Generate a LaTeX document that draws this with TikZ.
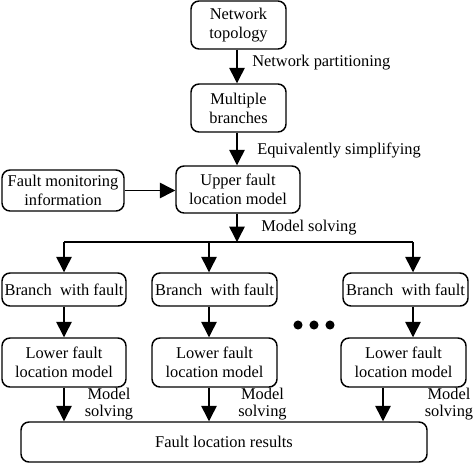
\documentclass[tikz,border=0pt]{standalone}
\usepackage{fontspec}
\setmainfont{Liberation Serif}
\usetikzlibrary{arrows.meta}
\begin{document}
\begin{tikzpicture}[x=0.75pt,y=-0.75pt,
  box/.style={draw,line width=1.1pt,rounded corners=6pt,align=center,inner sep=0pt,font=\fontsize{12.3}{14.25}\selectfont},
  arr/.style={draw,line width=1.1pt,-{Triangle[length=11.5pt,width=11.5pt]}},
  lbl/.style={font=\fontsize{12.3}{14.25}\selectfont,inner sep=0pt},
  lbl2/.style={font=\fontsize{12.3}{12.75}\selectfont,inner sep=0pt,align=center}]
\useasboundingbox (0,0) rectangle (474,464);
\node[box,minimum width=71.25pt,minimum height=36pt] (topo) at (238.5,25) {Network\\topology};
\node[box,minimum width=71.25pt,minimum height=36pt] (branches) at (238.5,108) {Multiple\\branches};
\node[box,minimum width=93pt,minimum height=35.25pt] (upper) at (238,189.5) {Upper fault\\location model};
\node[box,minimum width=91.5pt,minimum height=30.75pt] (monitor) at (63,190.5) {Fault monitoring\\information};
\node[box,minimum width=93pt,minimum height=24.75pt] (b1) at (64,289.5) {Branch\ \ with fault};
\node[box,minimum width=93.75pt,minimum height=24.75pt] (b2) at (214.5,289.5) {Branch\ \ with fault};
\node[box,minimum width=93.75pt,minimum height=24.75pt] (b3) at (405.5,289.5) {Branch\ \ with fault};
\node[box,minimum width=93pt,minimum height=36.75pt] (l1) at (64,362.5) {Lower fault\\location model};
\node[box,minimum width=93.75pt,minimum height=36.75pt] (l2) at (214.5,362.5) {Lower fault\\location model};
\node[box,minimum width=93.75pt,minimum height=36.75pt] (l3) at (403.5,362.5) {Lower fault\\location model};
\node[box,minimum width=304.5pt,minimum height=30pt] (result) at (224,442) {Fault location results};
% coordinates
\coordinate (j) at (237,242);
\coordinate (x1) at (64,242);
\coordinate (x2) at (209,242);
\coordinate (x3) at (413,242);
\coordinate (x4) at (383,242);
% arrows
\draw[arr] (topo.south -| j) -- (branches.north -| j);
\draw[arr] (branches.south -| j) -- (upper.north -| j);
\draw[arr] (monitor.east) -- (monitor.east -| upper.west);
\draw[arr] (upper.south -| j) -- (j);
\draw[line width=1.1pt] (x1) -- (x3);
\draw[arr] (x1) -- (b1.north -| x1);
\draw[arr] (x2) -- (b2.north -| x2);
\draw[arr] (x3) -- (b3.north -| x3);
\draw[arr] (b1.south -| x1) -- (l1.north -| x1);
\draw[arr] (b2.south -| x2) -- (l2.north -| x2);
\draw[arr] (b3.south -| x3) -- (l3.north -| x3);
\draw[arr] (l1.south -| x1) -- (result.north -| x1);
\draw[arr] (l2.south -| x2) -- (result.north -| x2);
\draw[arr] (l3.south -| x4) -- (result.north -| x4);
% labels
\node[lbl,anchor=west] (lp) at (252,63) {Network partitioning};
\node[lbl,anchor=west] (ls) at (257,150) {Equivalently simplifying};
\node[lbl,anchor=west] (lm) at (261,228) {Model solving};
\node[lbl2] (m1) at (109,404.5) {Model\\solving};
\node[lbl2] (m2) at (262.5,404.5) {Model\\solving};
\node[lbl2] (m3) at (449,404.5) {Model\\solving};
% dots
\fill (298,325) circle (3.4pt);
\fill (314,325) circle (3.4pt);
\fill (330,325) circle (3.4pt);
\end{tikzpicture}
\end{document}
